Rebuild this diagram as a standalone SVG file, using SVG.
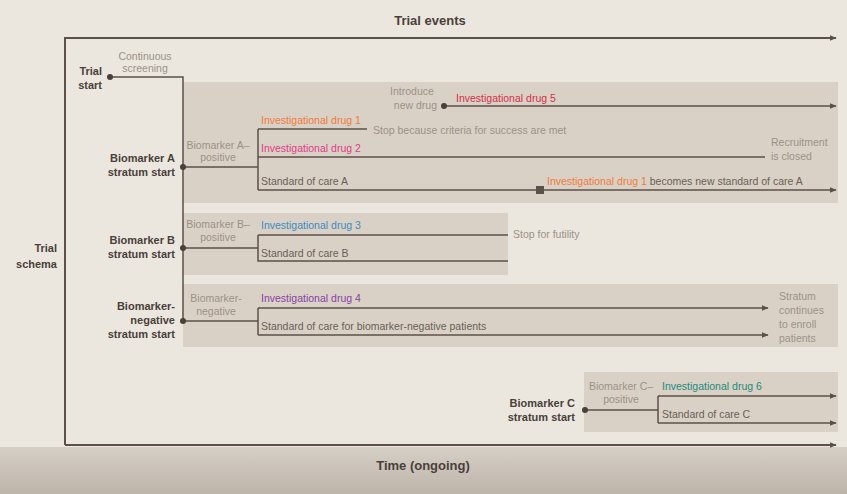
<svg xmlns="http://www.w3.org/2000/svg" width="847" height="494" viewBox="0 0 847 494">
<defs>
<linearGradient id="bg" x1="0" y1="0" x2="0" y2="1"><stop offset="0" stop-color="#d6cfc6"/><stop offset="1" stop-color="#bdb4aa"/></linearGradient>
<marker id="ar" viewBox="0 0 10 10" refX="9" refY="5" markerWidth="7" markerHeight="7" orient="auto" markerUnits="userSpaceOnUse"><path d="M0,1 L10,5 L0,9 z" fill="#5b504a"/></marker>
</defs>
<style>
text{font-family:"Liberation Sans",Arial,sans-serif;font-size:10.5px}
.b{font-weight:bold;fill:#4a3f3a;font-size:11px}
.t{font-size:13px}
.g{fill:#9c9188}
.d{fill:#6a5f58}
.ln{stroke:#5b504a;stroke-width:1.5;fill:none}
.ax{stroke:#5b504a;stroke-width:2;fill:none}
.p{fill:#d9d1c5}
</style>
<rect width="847" height="494" fill="#ebe7df"/>
<rect y="447" width="847" height="47" fill="url(#bg)"/>
<g id="panels">
<rect class="p" x="183" y="82" width="655" height="121"/>
<rect class="p" x="183" y="213" width="325" height="62"/>
<rect class="p" x="183" y="284" width="655" height="63"/>
<rect class="p" x="584" y="372" width="254" height="60"/>
</g>
<g id="axes">
<path class="ax" d="M65,445 V38 H836" marker-end="url(#ar)"/>
<path class="ax" d="M65,445 H836" marker-end="url(#ar)"/>
<text class="b t" x="430" y="25" text-anchor="middle">Trial events</text>
<text class="b t" x="423" y="470" text-anchor="middle">Time (ongoing)</text>
<text class="b" x="57" y="252" text-anchor="end">Trial</text>
<text class="b" x="57" y="268" text-anchor="end">schema</text>
</g>
<g id="connectors">
<path class="ln" d="M110,77 H183 V321"/>
<path class="ln" d="M183,167 H258 M258,129 V190 M258,129 H367 M258,157 H765"/>
<path class="ln" d="M258,190 H836" marker-end="url(#ar)"/>
<path class="ln" d="M444,106 H836" marker-end="url(#ar)"/>
<rect x="536" y="186" width="8" height="8" fill="#5b504a"/>
<path class="ln" d="M183,248 H258 M258,235 V261 H508 M258,235 H508"/>
<path class="ln" d="M183,321 H258 M258,308 V335"/>
<path class="ln" d="M258,308 H768" marker-end="url(#ar)"/>
<path class="ln" d="M258,335 H768" marker-end="url(#ar)"/>
<path class="ln" d="M585,410 H658 M658,396 V423"/>
<path class="ln" d="M658,396 H836" marker-end="url(#ar)"/>
<path class="ln" d="M658,423 H836" marker-end="url(#ar)"/>
<g fill="#4a3f3a"><circle cx="110" cy="77" r="3"/><circle cx="183" cy="167" r="3"/><circle cx="183" cy="248" r="3"/><circle cx="183" cy="321" r="3"/><circle cx="585" cy="410" r="3"/><circle cx="444" cy="106" r="3"/></g>
</g>
<g id="trial-start"><text class="b" x="102" y="75" text-anchor="end">Trial</text><text class="b" x="102" y="89" text-anchor="end">start</text>
<text class="g" x="145" y="60" text-anchor="middle">Continuous</text><text class="g" x="145" y="72" text-anchor="middle">screening</text></g>
<g id="stratum-a">
<text class="b" x="175" y="162" text-anchor="end">Biomarker A</text><text class="b" x="175" y="176" text-anchor="end">stratum start</text>
<text class="g" x="218" y="149" text-anchor="middle">Biomarker A–</text><text class="g" x="218" y="161" text-anchor="middle">positive</text>
<text x="261" y="124" fill="#f07b3c">Investigational drug 1</text>
<text class="g" x="373" y="134">Stop because criteria for success are met</text>
<text x="261" y="152" fill="#e03c8a">Investigational drug 2</text>
<text class="g" x="771" y="146">Recruitment</text><text class="g" x="771" y="160">is closed</text>
<text class="d" x="261" y="185">Standard of care A</text>
<text x="547" y="185" fill="#f07b3c">Investigational drug 1 <tspan class="d">becomes new standard of care A</tspan></text>
<text class="g" x="412" y="95" text-anchor="middle">Introduce</text><text class="g" x="437" y="109" text-anchor="end">new drug</text>
<text x="456" y="102" fill="#d42f4a">Investigational drug 5</text>
</g>
<g id="stratum-b">
<text class="b" x="175" y="244" text-anchor="end">Biomarker B</text><text class="b" x="175" y="258" text-anchor="end">stratum start</text>
<text class="g" x="218" y="228" text-anchor="middle">Biomarker B–</text><text class="g" x="218" y="241" text-anchor="middle">positive</text>
<text x="261" y="229" fill="#3d8ac4">Investigational drug 3</text>
<text class="g" x="513" y="238">Stop for futility</text>
<text class="d" x="261" y="257">Standard of care B</text>
</g>
<g id="stratum-neg">
<text class="b" x="175" y="310" text-anchor="end">Biomarker-</text><text class="b" x="175" y="324" text-anchor="end">negative</text><text class="b" x="175" y="338" text-anchor="end">stratum start</text>
<text class="g" x="216" y="302" text-anchor="middle">Biomarker-</text><text class="g" x="216" y="315" text-anchor="middle">negative</text>
<text x="261" y="302" fill="#8a3fa8">Investigational drug 4</text>
<text class="d" x="261" y="330">Standard of care for biomarker-negative patients</text>
<text class="g" x="779" y="300">Stratum</text><text class="g" x="779" y="314">continues</text><text class="g" x="779" y="328">to enroll</text><text class="g" x="779" y="342">patients</text>
</g>
<g id="stratum-c">
<text class="b" x="575" y="407" text-anchor="end">Biomarker C</text><text class="b" x="575" y="421" text-anchor="end">stratum start</text>
<text class="g" x="621" y="390" text-anchor="middle">Biomarker C–</text><text class="g" x="621" y="403" text-anchor="middle">positive</text>
<text x="662" y="390" fill="#1f8a7e">Investigational drug 6</text>
<text class="d" x="662" y="418">Standard of care C</text>
</g>
</svg>
